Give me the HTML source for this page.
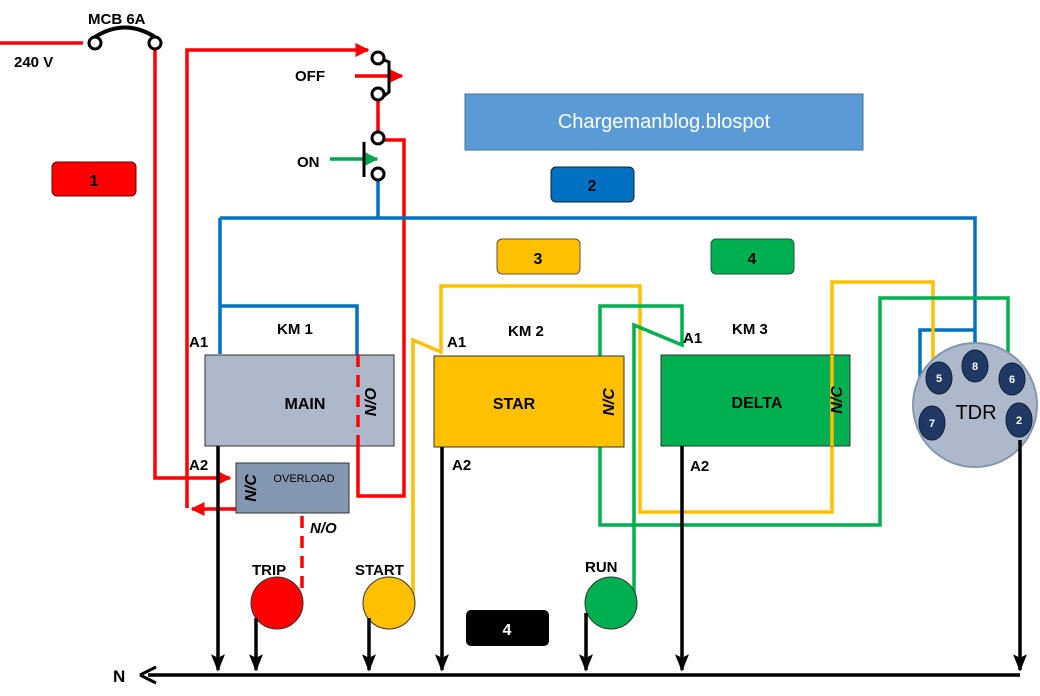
<!DOCTYPE html>
<html><head><meta charset="utf-8"><style>
html,body{margin:0;padding:0;background:#fff}
svg{display:block}
text{font-family:"Liberation Sans",sans-serif;font-weight:bold}
</style></head><body>
<svg width="1040" height="696" viewBox="0 0 1040 696" xmlns="http://www.w3.org/2000/svg">
<defs>
<marker id="ar" viewBox="0 0 10 10" refX="9" refY="5" markerWidth="4" markerHeight="4" orient="auto"><path d="M0,0 L10,5 L0,10 z" fill="red"/></marker>
<marker id="ag" viewBox="0 0 10 10" refX="9" refY="5" markerWidth="4" markerHeight="4" orient="auto"><path d="M0,0 L10,5 L0,10 z" fill="#00a550"/></marker>
<marker id="ab" viewBox="0 0 10 10" refX="9" refY="5" markerWidth="5" markerHeight="5" orient="auto"><path d="M0,1 L10,5 L0,9 L2,5 z" fill="#000"/></marker>
</defs>
<rect x="465" y="94" width="398" height="56" fill="#5b9bd5" stroke="#41719c"/>
<text x="664" y="128" text-anchor="middle" fill="#fff" font-size="20" style="font-weight:normal">Chargemanblog.blospot</text>
<rect x="52" y="162" width="84" height="34" rx="5" fill="#f00" stroke="#600"/><text x="94" y="186" text-anchor="middle" font-size="16">1</text>
<rect x="551" y="167" width="83" height="35" rx="5" fill="#0070c0" stroke="#123"/><text x="592" y="191" text-anchor="middle" font-size="16">2</text>
<rect x="497" y="239" width="83" height="35" rx="5" fill="#ffc000" stroke="#654"/><text x="538" y="264" text-anchor="middle" font-size="16">3</text>
<rect x="711" y="239" width="83" height="35" rx="5" fill="#00b050" stroke="#254"/><text x="752" y="264" text-anchor="middle" font-size="16">4</text>
<rect x="466" y="610" width="83" height="36" rx="5" fill="#000"/><text x="507" y="635" text-anchor="middle" font-size="16" fill="#fff">4</text>

<g fill="none" stroke-width="3.5">
<path d="M0,43 H83" stroke="red"/>
<path d="M155,50 V478 H230" stroke="red" marker-end="url(#ar)"/>
<path d="M187,508 V50 H368" stroke="red" marker-end="url(#ar)"/>
<path d="M236,509 H192" stroke="red" marker-end="url(#ar)"/>
<path d="M355,76 H402" stroke="red" marker-end="url(#ar)"/>
<path d="M378,100 V131" stroke="red"/>
<path d="M384,140 H404 V496 H358 V447" stroke="red"/>
<path d="M302,516 V592" stroke="red" stroke-dasharray="12,8"/>
<path d="M330,159 H377" stroke="#00a550" marker-end="url(#ag)"/>
<path d="M378,180 V218 M220,218 H975 V366 M220,218 V354 M220,306 H357 V355 M975,330 H920 V420" stroke="#0070c0"/>
<path d="M413,600 V340 L441,352 V286 H640 V512 H832 V282 H933 V372" stroke="#ffc000"/>
<path d="M634,600 V325 L682,345 V306 H600 V525 H880 V298 H1008 V372" stroke="#00b050"/>
</g>

<path d="M95,37 Q125,18 155,37" fill="none" stroke="#000" stroke-width="4"/>
<circle cx="95" cy="43" r="6" fill="#fff" stroke="#000" stroke-width="3"/>
<circle cx="155" cy="43" r="6" fill="#fff" stroke="#000" stroke-width="3"/>
<path d="M384,60 L389,62 V92 L384,96" fill="none" stroke="#000" stroke-width="3"/>
<circle cx="378" cy="58" r="6" fill="#fff" stroke="#000" stroke-width="3"/>
<circle cx="378" cy="94" r="6" fill="#fff" stroke="#000" stroke-width="3"/>
<path d="M364,142 V177" stroke="#000" stroke-width="3"/>
<circle cx="378" cy="138" r="6" fill="#fff" stroke="#000" stroke-width="3"/>
<circle cx="378" cy="174" r="6" fill="#fff" stroke="#000" stroke-width="3"/>

<rect x="205" y="355" width="189" height="91" fill="#adb9ca" stroke="#333"/>
<path d="M358,355 V447" stroke="red" stroke-width="3.5" stroke-dasharray="12,8"/>
<text x="305" y="409" text-anchor="middle" font-size="16">MAIN</text>
<text transform="translate(376,402) rotate(-90)" text-anchor="middle" font-size="16" font-style="italic">N/O</text>
<rect x="236" y="463" width="113" height="50" fill="#8497b0" stroke="#333"/>
<text x="304" y="482" text-anchor="middle" font-size="11" style="font-weight:normal">OVERLOAD</text>
<text transform="translate(256,488) rotate(-90)" text-anchor="middle" font-size="16" font-style="italic">N/C</text>

<rect x="434" y="356" width="190" height="91" fill="#ffc000" stroke="#333"/>
<text x="514" y="409" text-anchor="middle" font-size="16">STAR</text>
<text transform="translate(614,402) rotate(-90)" text-anchor="middle" font-size="16" font-style="italic">N/C</text>
<rect x="661" y="355" width="189" height="91" fill="#00b050" stroke="#333"/>
<path d="M832,355 V446" stroke="#ffc000" stroke-width="3.5"/>
<text x="757" y="408" text-anchor="middle" font-size="16">DELTA</text>
<text transform="translate(842,400) rotate(-90)" text-anchor="middle" font-size="16" font-style="italic">N/C</text>

<circle cx="975" cy="405" r="62" fill="#adb9ca" stroke="#8497b0" stroke-width="2"/>
<text x="976" y="419" text-anchor="middle" font-size="20" style="font-weight:normal">TDR</text>
<g fill="#1f3864" stroke="#0f1f3a">
<ellipse cx="939" cy="378" rx="13" ry="16"/><ellipse cx="975" cy="366" rx="13" ry="16"/><ellipse cx="1012" cy="379" rx="13" ry="16"/>
<ellipse cx="932" cy="423" rx="13" ry="17"/><ellipse cx="1019" cy="420" rx="13" ry="17"/>
</g>
<g fill="#fff" font-size="11" text-anchor="middle">
<text x="939" y="382">5</text><text x="975" y="370">8</text><text x="1012" y="383">6</text><text x="932" y="427">7</text><text x="1019" y="424">2</text>
</g>

<circle cx="277" cy="603" r="26" fill="#f00" stroke="#333"/>
<circle cx="389" cy="603" r="26" fill="#ffc000" stroke="#333"/>
<circle cx="611" cy="603" r="26" fill="#00b050" stroke="#333"/>

<g stroke="#000" stroke-width="3.5" fill="none">
<path d="M1020,675 H148"/>
<path d="M140,675 L156,667 M140,675 L156,683" stroke-width="3"/>
<path d="M1020,440 V670" marker-end="url(#ab)"/>
<path d="M218,446 V670" marker-end="url(#ab)"/>
<path d="M256,618 V670" marker-end="url(#ab)"/>
<path d="M369,618 V670" marker-end="url(#ab)"/>
<path d="M442,447 V670" marker-end="url(#ab)"/>
<path d="M586,613 V670" marker-end="url(#ab)"/>
<path d="M682,446 V670" marker-end="url(#ab)"/>
</g>

<g font-size="15">
<text x="88" y="24">MCB 6A</text>
<text x="14" y="67">240 V</text>
<text x="295" y="81">OFF</text>
<text x="297" y="167">ON</text>
<text x="277" y="334">KM 1</text>
<text x="189" y="347">A1</text>
<text x="189" y="470">A2</text>
<text x="508" y="336">KM 2</text>
<text x="447" y="347">A1</text>
<text x="452" y="470">A2</text>
<text x="732" y="334">KM 3</text>
<text x="683" y="343">A1</text>
<text x="690" y="471">A2</text>
<text x="310" y="533" font-style="italic">N/O</text>
<text x="252" y="575">TRIP</text>
<text x="355" y="575">START</text>
<text x="585" y="572">RUN</text>
<text x="113" y="682" font-size="17">N</text>
</g>
</svg>
</body></html>
